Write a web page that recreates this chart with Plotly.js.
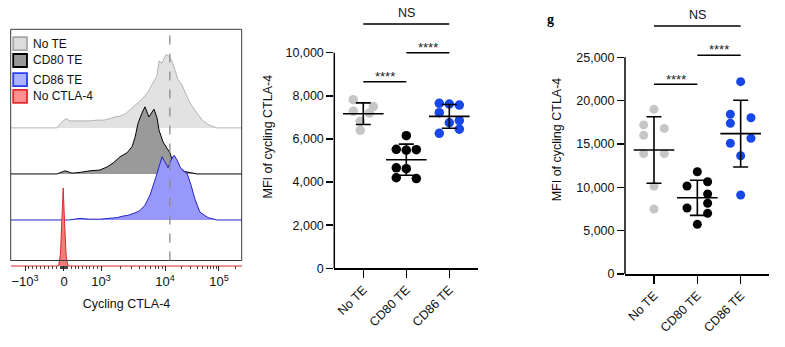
<!DOCTYPE html>
<html><head><meta charset="utf-8">
<script src="https://cdn.plot.ly/plotly-3.0.1.min.js"></script>
<style>html,body{margin:0;padding:0;background:#fff}#chart{width:785px;height:347px}</style>
</head><body><div id="chart"></div>
<script>
// ===== Panel f (left): layered histograms; x in display channels (0-1000), y in % of mode =====
const noTE_ch    = [0,199,212,238,255,286,342,372,403,429,450,472,494,515,537,571,593,615,632,641,654,671,684,697,710,723,740,753,775,805,831,862,892,1000];
const noTE_pct   = [0,0,5,12,9,9,9,10,10,12,14,15,18,23,29,38,46,58,67,86,83,94,92,86,74,62,55,47,32,19,9,3,0,0];
const cd80_ch    = [0,199,234,264,299,342,385,416,442,472,502,524,537,550,567,580,597,610,619,632,641,658,675,688,701,723,753,805,1000];
const cd80_pct   = [0,0,4,1,2,4,5,9,14,22,27,35,47,65,78,86,73,78,83,72,56,41,33,27,15,8,3,0,0];
const cd86_ch    = [0,250,299,342,385,429,459,485,506,537,558,580,602,623,641,654,667,680,693,706,719,732,745,762,779,797,818,853,892,1000];
const cd86_pct   = [0,0,2,1,1,2,3,5,6,9,12,19,32,51,68,81,74,67,77,83,77,68,63,60,45,26,10,3,0,0];
const noCTLA_ch  = [0,206,214,221,226,232,239,247,1000];
const noCTLA_pct = [0,0,15,60,100,55,12,0,0];
const histNames  = ['No TE','CD80 TE','CD86 TE','No CTLA-4'];
const majorVals  = [-1000,0,1000,10000,100000];
const majorText  = ['\u221210<sup>3</sup>','0','10<sup>3</sup>','10<sup>4</sup>','10<sup>5</sup>'];
const refValue   = 12300;   // dashed reference line (Cycling CTLA-4)

// ===== Scatter panels =====
const groups = ['No TE','CD80 TE','CD86 TE'];
// middle panel: MFI of cycling CTLA-4
const mfiA_noTE = [7820,7500,7280,7200,6820,6400];
const mfiA_cd80 = [6150,5520,5480,5500,4660,4620,4200,4160];
const mfiA_cd86 = [7650,7620,7570,7220,6850,6750,6450,6260];
const slotA_noTE = [-1,1,-1,0.6,-0.3,-0.3];
const slotA_cd80 = [0,-1,0,1,-1,0,-1,1];
const slotA_cd86 = [-1,0,1,-1,1,0,1,-1];
// right panel (g)
const mfiB_noTE = [19000,17200,16800,16000,13900,13900,10150,7500];
const mfiB_cd80 = [11800,10650,10150,9230,8160,7620,7000,5730];
const mfiB_cd86 = [22190,18430,18030,17390,15660,15080,13650,9120];
const slotB_noTE = [0,-1,1,-1,-1,1,0,0];
const slotB_cd80 = [0,1,-1,1,1,-1,1,0];
const slotB_cd86 = [0,-1,1,-1,1,-1,0,0];
const statsLabels = ['****','****','NS'];

// ---------- helpers ----------
const W = 785, H = 347;
const fx = p => p / W;
const fy = p => (H - p) / H;
const FONT = 'Liberation Sans, Arial, sans-serif';

function toChannel(v){ // logicle-like display transform
  if (v <= 0) return 229.4 + v * 0.1688;
  if (v <= 1000) return 229.4 + v * 0.1602;
  if (v <= 10000) return 389.6 + 277.1 * Math.log10(v / 1000);
  return 666.7 + 233.7 * Math.log10(v / 10000);
}
const minorVals = [];
for (let k = 1; k <= 9; k++) { minorVals.push(-k*100, k*100, -k*10, k*10, (k+1)*1000, (k+1)*10000); }
minorVals.push(200000);
const minorCh = minorVals.filter(v => v !== 10000 && v !== 100000 && v!==1000 && v!==-1000).map(toChannel);

const laneStep = 59;
const histStyles = [
  {fill:'#e2e2e2', line:'#b3b3b3'},
  {fill:'#9a9a9a', line:'#000000'},
  {fill:'#9898fb', line:'#2323c8'},
  {fill:'#f27c7c', line:'#d82a2a'}
];
const histData = [[noTE_ch,noTE_pct],[cd80_ch,cd80_pct],[cd86_ch,cd86_pct],[noCTLA_ch,noCTLA_pct]];
const traces = [];
histData.forEach((d, i) => {
  const off = (3 - i) * laneStep;
  traces.push({type:'scatter', mode:'lines', name:histNames[i], x:d[0], y:d[1].map(v => v + off),
    fill:'toself', fillcolor:histStyles[i].fill, line:{color:histStyles[i].line, width:1},
    xaxis:'x', yaxis:'y', showlegend:false, hoverinfo:'skip'});
});

function sdOf(vals){
  const n = vals.length, m = vals.reduce((a,b)=>a+b,0)/n;
  return [m, Math.sqrt(vals.reduce((a,b)=>a+(b-m)*(b-m),0)/(n-1))];
}
const dotColors = ['#c6c6c6','#000000','#1747e6'];
function addScatter(sets, slots, xa, ya, size, spacing){
  sets.forEach((vals, gi) => {
    traces.push({type:'scatter', mode:'markers', name:groups[gi], x:vals.map((v,i)=>gi + slots[gi][i]*spacing), y:vals,
      marker:{color:dotColors[gi], size:size, line:{width:0}}, xaxis:xa, yaxis:ya, showlegend:false, hoverinfo:'skip'});
  });
  sets.forEach((vals, gi) => {
    const [m, s] = sdOf(vals);
    traces.push({type:'scatter', mode:'markers', x:[gi], y:[m],
      marker:{symbol:'line-ew', size:29, color:'#000', line:{color:'#000', width:1.6}},
      error_y:{type:'data', array:[s], visible:true, color:'#000', thickness:1.6, width:7.5},
      xaxis:xa, yaxis:ya, showlegend:false, hoverinfo:'skip'});
  });
}
addScatter([mfiA_noTE,mfiA_cd80,mfiA_cd86],[slotA_noTE,slotA_cd80,slotA_cd86],'x2','y2',9.5,0.233);
addScatter([mfiB_noTE,mfiB_cd80,mfiB_cd86],[slotB_noTE,slotB_cd80,slotB_cd86],'x3','y3',9,0.238);

// ---------- layout ----------
const tickFont = {family:FONT, size:12.5, color:'#111'};
const catAxis = (dom, rng, anchor) => ({domain:dom, range:rng, anchor:anchor, tickmode:'array', tickvals:[0,1,2], ticktext:groups,
  tickangle:-45, ticks:'outside', ticklen:8, tickwidth:1.5, tickcolor:'#000', showline:true, linewidth:1.5, linecolor:'#000',
  showgrid:false, zeroline:false, tickfont:tickFont, fixedrange:true});
const valAxis = (dom, rng, anchor, tv, stand) => ({domain:dom, range:rng, anchor:anchor, tickmode:'array', tickvals:tv, tickformat:',',
  ticks:'outside', ticklen:7, tickwidth:1.5, tickcolor:'#000', showline:false, showgrid:false, zeroline:false, tickfont:tickFont,
  title:{text:'MFI of cycling CTLA-4', font:{family:FONT, size:12.5, color:'#111'}, standoff:stand}, fixedrange:true});

const yTopA = 12212, yTopB = 31038;
const shapes = [
  // histogram frame
  {type:'rect', xref:'paper', yref:'paper', x0:fx(10.7), x1:fx(241.7), y0:fy(260.5), y1:fy(29.3), line:{color:'#3a3a3a', width:1}},
  // reference dashed line
  {type:'line', xref:'x', yref:'y', x0:toChannel(refValue), x1:toChannel(refValue), y0:7, y1:303.4, line:{color:'#8a8a8a', width:1.3, dash:'dash'}},
  // y axis lines of scatter panels
  {type:'line', xref:'x2 domain', yref:'y2', x0:0, x1:0, y0:0, y1:10000, line:{color:'#000', width:1.5}},
  {type:'line', xref:'x3 domain', yref:'y3', x0:0, x1:0, y0:0, y1:25000, line:{color:'#000', width:1.5}},
  // brackets middle
  {type:'line', xref:'x2', yref:'y2', x0:0, x1:1, y0:8655, y1:8655, line:{color:'#000', width:1.5}},
  {type:'line', xref:'x2', yref:'y2', x0:1, x1:2, y0:10000, y1:10000, line:{color:'#000', width:1.5}},
  {type:'line', xref:'x2', yref:'y2', x0:0, x1:2, y0:11331, y1:11331, line:{color:'#000', width:1.5}},
  // brackets right
  {type:'line', xref:'x3', yref:'y3', x0:0, x1:1, y0:21888, y1:21888, line:{color:'#000', width:1.5}},
  {type:'line', xref:'x3', yref:'y3', x0:1, x1:2, y0:25234, y1:25234, line:{color:'#000', width:1.5}},
  {type:'line', xref:'x3', yref:'y3', x0:0, x1:2, y0:28615, y1:28615, line:{color:'#000', width:1.5}}
];
// legend boxes
const legStyles = [
  {fill:'#dcdcdc', line:'#a8a8a8'}, {fill:'#999999', line:'#000000'},
  {fill:'#aab3ff', line:'#2a3ef0'}, {fill:'#ff9090', line:'#e42a2a'}
];
const legY = [43.7, 60.5, 79.7, 96.3];
const annotations = [];
legY.forEach((yc, i) => {
  shapes.push({type:'rect', xref:'paper', yref:'paper', x0:fx(13.2), x1:fx(27), y0:fy(yc+6.5), y1:fy(yc-6.5),
    fillcolor:legStyles[i].fill, line:{color:legStyles[i].line, width:1.8}});
  annotations.push({xref:'paper', yref:'paper', x:fx(31), y:fy(yc), xanchor:'left', yanchor:'middle', showarrow:false,
    text:histNames[i], font:{family:FONT, size:12, color:'#111'}});
});
const starFont = {family:FONT, size:13, color:'#222'};
const nsFont = {family:FONT, size:12.5, color:'#111'};
annotations.push(
  {xref:'x2', yref:'y2', x:0.5, y:8900, text:statsLabels[0], showarrow:false, font:starFont, yanchor:'middle'},
  {xref:'x2', yref:'y2', x:1.5, y:10245, text:statsLabels[1], showarrow:false, font:starFont, yanchor:'middle'},
  {xref:'x2', yref:'y2', x:1, y:11855, text:statsLabels[2], showarrow:false, font:nsFont, yanchor:'middle'},
  {xref:'x3', yref:'y3', x:0.5, y:22500, text:statsLabels[0], showarrow:false, font:starFont, yanchor:'middle'},
  {xref:'x3', yref:'y3', x:1.5, y:25850, text:statsLabels[1], showarrow:false, font:starFont, yanchor:'middle'},
  {xref:'x3', yref:'y3', x:1, y:29884, text:statsLabels[2], showarrow:false, font:nsFont, yanchor:'middle'},
  {xref:'paper', yref:'paper', x:fx(556), y:fy(10), text:'<b>g</b>', showarrow:false, font:{family:'Liberation Serif, serif', size:14, color:'#000'}}
);

const layout = {
  width:W, height:H, margin:{l:0,r:0,t:0,b:0}, paper_bgcolor:'#fff', plot_bgcolor:'rgba(0,0,0,0)', showlegend:false,
  font:{family:FONT, color:'#111'},
  xaxis:{domain:[fx(11), fx(242)], range:[0,1000], anchor:'free', position:fy(264.5), tickmode:'array',
    tickvals:majorVals.map(toChannel), ticktext:majorText, ticks:'outside', ticklen:5, tickwidth:1, tickcolor:'#222',
    minor:{tickmode:'array', tickvals:minorCh, ticks:'outside', ticklen:3, tickwidth:1, tickcolor:'#444'},
    showline:false, showgrid:false, zeroline:false, tickfont:{family:FONT, size:13, color:'#111'},
    title:{text:'Cycling CTLA-4', font:{family:FONT, size:12.5, color:'#111'}, standoff:11}, fixedrange:true},
  yaxis:{domain:[fy(270), fy(29.3)], range:[-5.13, 303.4], visible:false, fixedrange:true},
  xaxis2:catAxis([fx(334.3), fx(477.7)], [-0.674, 2.66], 'y2'),
  yaxis2:valAxis([fy(268.3), fy(5)], [0, yTopA], 'x2', [0,2000,4000,6000,8000,10000], 10),
  xaxis3:catAxis([fx(625), fx(769)], [-0.669, 2.654], 'y3'),
  yaxis3:valAxis([fy(274), fy(5)], [0, yTopB], 'x3', [0,5000,10000,15000,20000,25000], 11),
  shapes:shapes, annotations:annotations
};
Plotly.newPlot('chart', traces, layout, {staticPlot:true, displayModeBar:false});
</script></body></html>
